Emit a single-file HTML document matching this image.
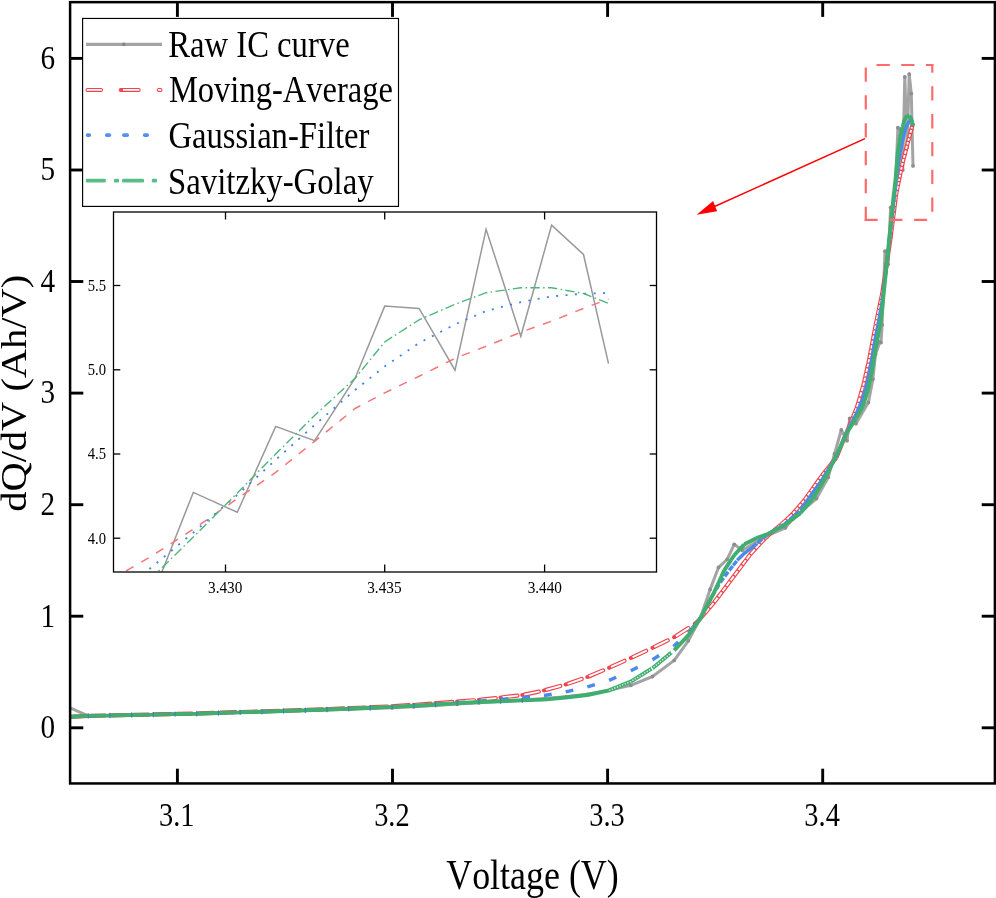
<!DOCTYPE html><html><head><meta charset="utf-8"><title>IC curve filtering comparison</title>
<style>html,body{margin:0;padding:0;background:#fff}svg{display:block}text{font-family:"Liberation Serif","Times New Roman",serif;fill:#000;font-kerning:none}</style></head><body>
<svg width="996" height="898" viewBox="0 0 996 898">
<rect width="996" height="898" fill="#fff"/>
<defs><clipPath id="cm"><rect x="70.1" y="2.1" width="924.8" height="781.3"/></clipPath><clipPath id="ci"><rect x="113.5" y="212.0" width="543.0" height="360.0"/></clipPath></defs>
<g clip-path="url(#cm)" fill="none" stroke-linejoin="round">
<polyline points="70.5,708.2 88.3,715.8 110.0,715.5 131.7,715.0 153.4,714.6 175.1,714.1 196.8,713.7 218.5,713.1 240.2,712.4 261.9,711.8 283.6,711.2 305.3,710.5 327.0,709.9 348.7,709.2 370.4,708.5 392.1,707.8 413.8,706.7 435.5,705.4 457.2,704.0 478.9,702.7 500.6,701.3 522.3,700.0 544.0,698.6 565.7,696.8 587.4,694.3 609.1,690.4 630.8,685.4 652.5,676.5 674.2,660.4 688.3,640.8 700.0,619.0 710.1,589.4 718.6,567.3 727.2,559.3 734.2,544.3 742.2,550.3 766.3,536.2 785.4,527.8 792.4,519.2 816.5,498.5 828.3,477.2 834.5,454.0 841.3,430.0 847.0,440.7 849.7,418.4 855.9,423.7 868.4,402.4 872.9,379.2 875.5,354.3 880.0,341.8 881.0,342.6 882.1,324.9 885.0,251.2 888.0,264.4 890.6,207.4 893.2,216.9 895.9,175.5 897.9,127.7 900.2,129.3 902.7,170.1 904.8,76.9 907.1,147.8 909.2,74.1 911.3,93.6 913.0,165.9" stroke="#a4a4a4" stroke-width="3"/>
<g fill="#8e8e8e"><circle cx="88.3" cy="715.8" r="1.9"/><circle cx="110.0" cy="715.5" r="1.9"/><circle cx="131.7" cy="715.0" r="1.9"/><circle cx="153.4" cy="714.6" r="1.9"/><circle cx="175.1" cy="714.1" r="1.9"/><circle cx="196.8" cy="713.7" r="1.9"/><circle cx="218.5" cy="713.1" r="1.9"/><circle cx="240.2" cy="712.4" r="1.9"/><circle cx="261.9" cy="711.8" r="1.9"/><circle cx="283.6" cy="711.2" r="1.9"/><circle cx="305.3" cy="710.5" r="1.9"/><circle cx="327.0" cy="709.9" r="1.9"/><circle cx="348.7" cy="709.2" r="1.9"/><circle cx="370.4" cy="708.5" r="1.9"/><circle cx="392.1" cy="707.8" r="1.9"/><circle cx="413.8" cy="706.7" r="1.9"/><circle cx="435.5" cy="705.4" r="1.9"/><circle cx="457.2" cy="704.0" r="1.9"/><circle cx="478.9" cy="702.7" r="1.9"/><circle cx="500.6" cy="701.3" r="1.9"/><circle cx="522.3" cy="700.0" r="1.9"/><circle cx="544.0" cy="698.6" r="1.9"/><circle cx="565.7" cy="696.8" r="1.9"/><circle cx="587.4" cy="694.3" r="1.9"/><circle cx="609.1" cy="690.4" r="1.9"/><circle cx="630.8" cy="685.4" r="1.9"/><circle cx="652.5" cy="676.5" r="1.9"/><circle cx="674.2" cy="660.4" r="1.9"/><circle cx="688.3" cy="640.8" r="1.9"/><circle cx="700.0" cy="619.0" r="1.9"/><circle cx="710.1" cy="589.4" r="1.9"/><circle cx="718.6" cy="567.3" r="1.9"/><circle cx="727.2" cy="559.3" r="1.9"/><circle cx="734.2" cy="544.3" r="1.9"/><circle cx="742.2" cy="550.3" r="1.9"/><circle cx="766.3" cy="536.2" r="1.9"/><circle cx="785.4" cy="527.8" r="1.9"/><circle cx="792.4" cy="519.2" r="1.9"/><circle cx="816.5" cy="498.5" r="1.9"/><circle cx="828.3" cy="477.2" r="1.9"/><circle cx="834.5" cy="454.0" r="1.9"/><circle cx="841.3" cy="430.0" r="1.9"/><circle cx="847.0" cy="440.7" r="1.9"/><circle cx="849.7" cy="418.4" r="1.9"/><circle cx="855.9" cy="423.7" r="1.9"/><circle cx="868.4" cy="402.4" r="1.9"/><circle cx="872.9" cy="379.2" r="1.9"/><circle cx="875.5" cy="354.3" r="1.9"/><circle cx="880.0" cy="341.8" r="1.9"/><circle cx="881.0" cy="342.6" r="1.9"/><circle cx="882.1" cy="324.9" r="1.9"/><circle cx="885.0" cy="251.2" r="1.9"/><circle cx="888.0" cy="264.4" r="1.9"/><circle cx="890.6" cy="207.4" r="1.9"/><circle cx="893.2" cy="216.9" r="1.9"/><circle cx="895.9" cy="175.5" r="1.9"/><circle cx="897.9" cy="127.7" r="1.9"/><circle cx="900.2" cy="129.3" r="1.9"/><circle cx="902.7" cy="170.1" r="1.9"/><circle cx="904.8" cy="76.9" r="1.9"/><circle cx="907.1" cy="147.8" r="1.9"/><circle cx="909.2" cy="74.1" r="1.9"/><circle cx="911.3" cy="93.6" r="1.9"/><circle cx="913.0" cy="165.9" r="1.9"/></g>
<path d="M70.5 716.8L88.3 715.9M694.8 624.0L700.0 619.0M700.0 619.0L704.7 613.5M704.7 613.5L709.4 608.0M709.4 608.0L714.1 602.5M714.1 602.5L718.1 597.1M718.1 597.1L722.2 591.8M722.2 591.8L726.2 586.4M726.2 586.4L730.2 581.1M730.2 581.1L734.2 575.7M734.2 575.7L738.2 570.4M738.2 570.4L742.2 565.0M742.2 565.0L746.3 559.7M746.3 559.7L750.3 554.3M750.3 554.3L755.3 548.8M755.3 548.8L760.3 543.3M760.3 543.3L764.3 539.2M764.3 539.2L768.4 535.2M768.4 535.2L774.4 530.2M774.4 530.2L780.4 525.2M780.4 525.2L786.4 519.7M786.4 519.7L792.4 514.1M792.4 514.1L795.4 510.6M795.4 510.6L798.5 507.1M798.5 507.1L801.5 503.6M801.5 503.6L804.5 500.1M804.5 500.1L807.4 496.0M807.4 496.0L810.4 491.9M810.4 491.9L813.3 487.8M813.3 487.8L816.2 483.6M816.2 483.6L819.2 479.5M819.2 479.5L822.1 475.4M822.1 475.4L824.9 471.8M824.9 471.8L827.8 468.3M827.8 468.3L830.6 464.7M830.6 464.7L833.5 461.2M833.5 461.2L836.3 457.6M836.3 457.6L838.4 452.6M838.4 452.6L840.5 447.5M840.5 447.5L842.5 442.5M842.5 442.5L844.6 437.4M844.6 437.4L846.7 432.4M846.7 432.4L848.8 427.3M848.8 427.3L850.8 422.4M850.8 422.4L852.8 417.5M852.8 417.5L854.8 412.6M854.8 412.6L856.8 407.7M856.8 407.7L858.4 402.4M858.4 402.4L860.0 397.0M860.0 397.0L861.5 391.6M861.5 391.6L863.1 386.3M863.1 386.3L864.2 381.7M864.2 381.7L865.2 377.1M865.2 377.1L866.3 372.4M866.3 372.4L867.3 367.8M867.3 367.8L868.4 363.2M868.4 363.2L869.3 358.6M869.3 358.6L870.2 353.9M870.2 353.9L871.1 349.3M871.1 349.3L872.0 344.6M872.0 344.6L872.9 340.0M872.9 340.0L873.8 334.9M873.8 334.9L874.8 329.9M874.8 329.9L875.7 324.8M875.7 324.8L876.8 319.7M876.8 319.7L877.8 314.6M877.8 314.6L878.9 309.6M878.9 309.6L879.9 304.5M879.9 304.5L881.0 299.4M881.0 299.4L882.1 294.3M882.1 294.3L882.8 289.6M882.8 289.6L883.5 284.9M883.5 284.9L884.3 280.2M884.3 280.2L885.0 275.6M885.0 275.6L885.8 270.5M885.8 270.5L886.5 265.4M886.5 265.4L887.3 260.4M887.3 260.4L888.0 255.3M888.0 255.3L888.6 250.9M888.6 250.9L889.3 246.6M889.3 246.6L889.9 242.3M889.9 242.3L890.6 237.9M890.6 237.9L891.2 232.8M891.2 232.8L891.9 227.6M891.9 227.6L892.5 222.5M892.5 222.5L893.2 217.3M893.2 217.3L893.9 211.9M893.9 211.9L894.6 206.5M894.6 206.5L895.3 201.0M895.3 201.0L895.9 195.6M895.9 195.6L896.9 190.4M896.9 190.4L897.9 185.3M897.9 185.3L898.7 181.6M898.7 181.6L899.5 177.9M899.5 177.9L900.2 174.3M900.2 174.3L901.1 170.3M901.1 170.3L901.9 166.3M901.9 166.3L902.7 162.3M902.7 162.3L903.7 158.4M903.7 158.4L904.8 154.4M904.8 154.4L905.9 149.7M905.9 149.7L907.1 145.0M907.1 145.0L908.1 141.4M908.1 141.4L909.2 137.8M909.2 137.8L910.3 133.5M910.3 133.5L911.3 129.3M911.3 129.3L912.2 126.2M912.2 126.2L913.0 123.1" stroke="#f0434b" stroke-width="4.2" stroke-linecap="butt"/>
<path d="M90.4 715.9L105.2 715.5M112.1 715.4L126.9 715.0M133.8 714.9L148.6 714.6M155.5 714.4L170.3 714.1M177.2 713.9L192.0 713.6M198.9 713.4L213.7 712.9M220.6 712.7L235.4 712.2M242.3 712.0L257.1 711.5M264.0 711.3L278.8 710.8M285.7 710.6L300.5 710.1M307.4 709.9L322.2 709.3M329.1 709.0L343.9 708.4M350.8 708.1L365.6 707.5M372.5 707.2L387.3 706.5M394.2 706.2L409.0 705.2M415.9 704.8L430.6 703.6M437.6 703.1L452.3 701.9M459.3 701.4L474.0 700.3M481.0 699.7L495.7 698.1M502.7 697.3L517.4 695.6M524.4 694.6L538.8 691.6M546.0 689.9L560.3 686.0M567.7 683.8L581.7 679.0M589.3 676.2L603.0 670.4M611.0 666.9L624.5 660.8M632.7 657.1L646.1 650.8M654.4 646.8L667.7 640.4M676.0 636.1L688.4 628.1" stroke="#f0434b" stroke-width="4.2" stroke-linecap="round"/>
<path d="M71.2 716.8L87.6 715.9M695.3 623.5L699.5 619.5M700.5 618.5L704.2 614.0M705.2 613.0L708.9 608.5M709.9 607.5L713.6 603.0M714.5 601.9L717.7 597.7M718.6 596.6L721.7 592.3M722.6 591.2L725.8 587.0M726.6 585.8L729.8 581.6M730.6 580.5L733.8 576.3M734.6 575.2L737.8 571.0M738.6 569.8L741.8 565.6M742.7 564.5L745.8 560.2M746.7 559.1L749.9 554.9M750.8 553.8L754.8 549.3M755.8 548.3L759.8 543.8M760.8 542.8L763.9 539.7M764.8 538.8L767.9 535.7M768.9 534.8L773.9 530.6M774.9 529.8L779.9 525.6M780.9 524.7L785.9 520.1M786.9 519.2L791.9 514.6M792.9 513.6L795.0 511.1M795.9 510.1L798.0 507.6M798.9 506.6L801.0 504.1M801.9 503.1L804.0 500.6M804.9 499.5L807.0 496.6M807.8 495.4L810.0 492.4M810.8 491.3L812.9 488.3M813.7 487.2L815.8 484.2M816.6 483.1L818.8 480.1M819.6 478.9L821.7 476.0M822.5 474.9L824.5 472.4M825.4 471.3L827.3 468.8M828.2 467.7L830.2 465.3M831.1 464.2L833.0 461.7M833.9 460.6L835.9 458.1M836.6 457.0L838.1 453.2M838.7 451.9L840.2 448.1M840.7 446.9L842.3 443.1M842.8 441.8L844.4 438.0M844.9 436.8L846.4 433.0M847.0 431.7L848.5 427.9M849.1 426.7L850.5 423.0M851.1 421.8L852.5 418.1M853.1 416.9L854.5 413.2M855.1 412.0L856.5 408.3M857.0 407.0L858.2 403.0M858.6 401.7L859.8 397.7M860.1 396.3L861.3 392.3M861.7 391.0L862.9 387.0M863.3 385.6L864.0 382.4M864.3 381.0L865.1 377.7M865.4 376.4L866.1 373.1M866.4 371.8L867.2 368.5M867.5 367.1L868.2 363.9M868.5 362.5L869.2 359.2M869.4 357.9L870.1 354.6M870.3 353.2L871.0 350.0M871.2 348.6L871.9 345.3M872.1 344.0L872.8 340.7M873.0 339.3L873.7 335.6M874.0 334.2L874.6 330.6M874.9 329.2L875.6 325.5M875.8 324.1L876.6 320.4M876.9 319.0L877.7 315.3M878.0 314.0L878.7 310.2M879.0 308.9L879.8 305.2M880.1 303.8L880.9 300.1M881.1 298.7L881.9 295.0M882.2 293.6L882.7 290.3M882.9 288.9L883.4 285.6M883.7 284.2L884.2 280.9M884.4 279.6L884.9 276.2M885.1 274.9L885.7 271.2M885.9 269.8L886.4 266.1M886.6 264.7L887.1 261.0M887.4 259.7L887.9 256.0M888.1 254.6L888.5 251.6M888.7 250.3L889.2 247.3M889.4 245.9L889.8 243.0M890.0 241.6L890.5 238.6M890.7 237.2L891.1 233.5M891.3 232.1L891.8 228.3M892.0 226.9L892.5 223.2M892.6 221.8L893.1 218.0M893.3 216.6L893.8 212.6M894.0 211.2L894.5 207.1M894.7 205.8L895.2 201.7M895.3 200.3L895.8 196.3M896.1 194.9L896.8 191.1M897.1 189.7L897.8 185.9M898.1 184.6L898.6 182.3M898.8 180.9L899.3 178.6M899.6 177.2L900.1 174.9M900.4 173.6L900.9 171.0M901.2 169.6L901.7 167.0M902.0 165.6L902.5 163.0M902.8 161.7L903.5 159.0M903.9 157.7L904.6 155.1M904.9 153.7L905.8 150.4M906.1 149.0L906.9 145.7M907.3 144.4L907.9 142.1M908.3 140.7L909.0 138.4M909.3 137.1L910.1 134.2M910.4 132.8L911.2 129.9M911.5 128.6L912.0 126.9M912.4 125.5L912.8 123.8" stroke="#fff" stroke-width="1.9" stroke-linecap="butt"/>
<path d="M90.4 715.9L105.2 715.5M112.1 715.4L126.9 715.0M133.8 714.9L148.6 714.6M155.5 714.4L170.3 714.1M177.2 713.9L192.0 713.6M198.9 713.4L213.7 712.9M220.6 712.7L235.4 712.2M242.3 712.0L257.1 711.5M264.0 711.3L278.8 710.8M285.7 710.6L300.5 710.1M307.4 709.9L322.2 709.3M329.1 709.0L343.9 708.4M350.8 708.1L365.6 707.5M372.5 707.2L387.3 706.5M394.2 706.2L409.0 705.2M415.9 704.8L430.6 703.6M437.6 703.1L452.3 701.9M459.3 701.4L474.0 700.3M481.0 699.7L495.7 698.1M502.7 697.3L517.4 695.6M524.4 694.6L538.8 691.6M546.0 689.9L560.3 686.0M567.7 683.8L581.7 679.0M589.3 676.2L603.0 670.4M611.0 666.9L624.5 660.8M632.7 657.1L646.1 650.8M654.4 646.8L667.7 640.4M676.0 636.1L688.4 628.1" stroke="#fff" stroke-width="1.9" stroke-linecap="round"/>
<g fill="#f0434b"><circle cx="88.3" cy="715.9" r="2.1"/><circle cx="110.0" cy="715.4" r="2.1"/><circle cx="131.7" cy="714.9" r="2.1"/><circle cx="153.4" cy="714.4" r="2.1"/><circle cx="175.1" cy="714.0" r="2.1"/><circle cx="196.8" cy="713.5" r="2.1"/><circle cx="218.5" cy="712.8" r="2.1"/><circle cx="240.2" cy="712.1" r="2.1"/><circle cx="261.9" cy="711.4" r="2.1"/><circle cx="283.6" cy="710.7" r="2.1"/><circle cx="305.3" cy="710.0" r="2.1"/><circle cx="327.0" cy="709.1" r="2.1"/><circle cx="348.7" cy="708.2" r="2.1"/><circle cx="370.4" cy="707.2" r="2.1"/><circle cx="392.1" cy="706.3" r="2.1"/><circle cx="413.8" cy="704.9" r="2.1"/><circle cx="435.5" cy="703.2" r="2.1"/><circle cx="457.2" cy="701.6" r="2.1"/><circle cx="478.9" cy="699.9" r="2.1"/><circle cx="500.6" cy="697.6" r="2.1"/><circle cx="522.3" cy="695.0" r="2.1"/><circle cx="544.0" cy="690.5" r="2.1"/><circle cx="565.7" cy="684.5" r="2.1"/><circle cx="587.4" cy="677.0" r="2.1"/><circle cx="609.1" cy="667.8" r="2.1"/><circle cx="630.8" cy="658.0" r="2.1"/><circle cx="652.5" cy="647.8" r="2.1"/><circle cx="674.2" cy="637.2" r="2.1"/><circle cx="694.8" cy="624.0" r="2.1"/></g>
<path d="M70.5 716.8L78.3 716.4M88.3 715.9L96.1 715.7M110.0 715.4L117.8 715.3M131.7 715.0L139.5 714.8M153.4 714.5L161.2 714.3M175.1 714.0L182.9 713.9M196.8 713.6L204.6 713.3M218.5 712.9L226.3 712.7M240.2 712.2L248.0 712.0M261.9 711.5L269.7 711.3M283.6 710.8L291.4 710.6M305.3 710.1L313.1 709.9M327.0 709.4L334.8 709.1M348.7 708.6L356.5 708.3M370.4 707.9L378.2 707.6M392.1 707.1L399.9 706.6M413.8 705.8L421.6 705.3M435.5 704.3L443.3 703.7M457.2 702.7L465.0 702.2M478.9 701.2L486.7 700.5M500.6 699.4L508.4 698.8M522.3 697.6L530.1 696.9M544.0 695.5L551.7 694.2M565.7 691.8L573.3 690.1M587.4 686.8L594.9 684.6M609.1 680.4L616.2 677.2M630.8 670.8L637.7 667.2M652.5 659.7L659.1 655.5M673.2 646.4L674.2 645.8" stroke="#4a8aeb" stroke-width="3.4" stroke-linecap="butt"/>
<path d="M674.2 645.8L678.3 642.0M688.3 632.8L691.9 628.5M692.2 628.2L695.8 623.9M696.1 623.6L699.7 619.3M700.0 619.0L702.7 614.1M704.0 611.5L706.7 606.6M708.1 604.0L710.7 599.1M712.1 596.5L714.9 591.6M716.2 589.5L718.9 584.6M720.2 582.4L723.6 577.9M724.7 576.4L728.1 571.9M729.2 570.4L732.7 566.0M733.2 565.3L736.7 561.0M737.2 560.3L740.8 556.8M740.8 556.8L744.3 553.3M744.3 553.3L748.3 550.3M748.3 550.3L752.3 547.3M752.3 547.3L756.6 543.7M757.7 542.8L762.0 539.2M763.0 538.3L767.3 534.7M768.4 533.8L773.2 530.9M773.7 530.6L778.5 527.7M779.1 527.4L783.9 524.5M784.4 524.2L788.6 520.5M789.8 519.5L794.0 515.8M795.1 514.8L799.3 511.1M800.5 510.1L803.4 506.1M803.4 506.1L806.2 502.1M806.2 502.1L809.1 498.1M809.1 498.1L812.0 494.0M812.0 494.0L814.9 490.0M814.9 490.0L817.7 486.0M817.7 486.0L820.6 482.0M820.6 482.0L823.2 477.8M823.2 477.8L825.8 473.5M825.8 473.5L828.5 469.2M828.5 469.2L831.1 465.0M831.1 465.0L833.7 460.8M833.7 460.8L836.3 456.5M836.3 456.5L838.2 452.2M838.2 452.2L840.0 447.8M840.0 447.8L841.9 443.5M841.9 443.5L843.8 439.2M843.8 439.2L845.6 434.8M845.6 434.8L847.5 430.5M847.5 430.5L849.7 426.4M849.7 426.4L851.9 422.2M851.9 422.2L854.0 418.1M854.0 418.1L856.2 414.0M856.2 414.0L857.9 410.0M857.9 410.0L859.7 406.0M859.7 406.0L861.4 402.0M861.4 402.0L863.1 398.0M863.1 398.0L864.4 393.0M864.4 393.0L865.8 388.0M865.8 388.0L867.1 383.0M867.1 383.0L868.4 378.0M868.4 378.0L869.4 372.5M869.4 372.5L870.3 367.0M870.3 367.0L871.3 361.5M871.3 361.5L872.3 356.0M872.3 356.0L873.2 350.7M873.2 350.7L874.1 345.3M874.1 345.3L875.0 340.0M875.0 340.0L876.0 334.9M876.0 334.9L877.0 329.9M877.0 329.9L878.0 324.8M878.0 324.8L878.8 320.2M878.8 320.2L879.6 315.7M879.6 315.7L880.4 311.1M880.4 311.1L881.3 306.5M881.3 306.5L882.1 301.9M882.1 301.9L882.7 297.1M882.7 297.1L883.3 292.3M883.3 292.3L883.8 287.5M883.8 287.5L884.4 282.6M884.4 282.6L885.0 277.8M885.0 277.8L885.6 272.8M885.6 272.8L886.2 267.8M886.2 267.8L886.8 262.8M886.8 262.8L887.4 257.8M887.4 257.8L888.0 252.8M888.0 252.8L888.5 248.2M888.5 248.2L889.0 243.5M889.0 243.5L889.5 238.9M889.5 238.9L890.1 234.2M890.1 234.2L890.6 229.6M890.6 229.6L891.1 225.0M891.1 225.0L891.6 220.4M891.6 220.4L892.2 215.7M892.2 215.7L892.7 211.1M892.7 211.1L893.2 206.5M893.2 206.5L893.7 201.9M893.7 201.9L894.3 197.2M894.3 197.2L894.8 192.6M894.8 192.6L895.4 188.0M895.4 188.0L895.9 183.3M895.9 183.3L896.6 178.1M896.6 178.1L897.3 172.9M897.3 172.9L897.9 167.7M897.9 167.7L898.7 162.5M898.7 162.5L899.5 157.4M899.5 157.4L900.2 152.2M900.2 152.2L901.1 148.1M901.1 148.1L901.9 144.0M901.9 144.0L902.7 139.9M902.7 139.9L903.7 135.4M903.7 135.4L904.8 131.0M904.8 131.0L905.9 128.0M905.9 128.0L907.1 125.1M907.1 125.1L909.2 121.3M909.2 121.3L911.3 119.5M911.3 119.5L913.0 119.0" stroke="#4a8aeb" stroke-width="3.5" stroke-linecap="butt"/>
<path d="M70.5 716.8L88.3 715.9M88.3 715.9L110.0 715.5M110.0 715.5L131.7 715.0M131.7 715.0L153.4 714.6M153.4 714.6L175.1 714.1M175.1 714.1L196.8 713.7M196.8 713.7L218.5 713.0M218.5 713.0L240.2 712.4M240.2 712.4L261.9 711.7M261.9 711.7L283.6 711.0M283.6 711.0L305.3 710.3M305.3 710.3L327.0 709.5M327.0 709.5L348.7 708.7M348.7 708.7L370.4 707.8M370.4 707.8L392.1 706.9M392.1 706.9L413.8 705.8M413.8 705.8L435.5 704.5M435.5 704.5L457.2 703.2M457.2 703.2L478.9 702.0M478.9 702.0L500.6 701.2M500.6 701.2L522.3 700.4M522.3 700.4L544.0 699.6M544.0 699.6L565.7 697.5M565.7 697.5L587.4 695.0M587.4 695.0L609.1 690.4M609.1 690.4L630.8 681.6M630.8 681.6L651.6 668.7M652.5 668.2L671.4 652.6M674.2 650.3L688.3 635.3M688.3 635.3L692.2 629.9M692.2 629.9L696.1 624.4M696.1 624.4L700.0 619.0M700.0 619.0L703.5 612.4M703.5 612.4L707.0 605.7M707.0 605.7L710.6 599.0M710.6 599.0L714.1 592.4M714.1 592.4L717.5 585.1M717.5 585.1L720.8 577.7M720.8 577.7L724.2 570.4M724.2 570.4L727.5 565.4M727.5 565.4L730.9 560.3M730.9 560.3L734.2 555.3M734.2 555.3L739.2 549.8M739.2 549.8L744.3 544.3M744.3 544.3L750.3 541.2M750.3 541.2L756.3 538.2M756.3 538.2L762.3 536.0M762.3 536.0L768.4 533.8M768.4 533.8L773.7 530.9M773.7 530.9L779.1 528.1M779.1 528.1L784.4 525.2M784.4 525.2L789.8 521.2M789.8 521.2L795.1 517.1M795.1 517.1L800.5 513.1M800.5 513.1L803.5 509.6M803.5 509.6L806.5 506.1M806.5 506.1L809.5 502.6M809.5 502.6L812.5 499.1M812.5 499.1L815.1 494.7M815.1 494.7L817.7 490.3M817.7 490.3L820.4 486.0M820.4 486.0L823.0 481.6M823.0 481.6L825.6 477.2M825.6 477.2L827.7 472.9M827.7 472.9L829.9 468.6M829.9 468.6L832.0 464.4M832.0 464.4L834.2 460.1M834.2 460.1L836.3 455.8M836.3 455.8L838.4 451.2M838.4 451.2L840.6 446.6M840.6 446.6L842.7 441.9M842.7 441.9L844.9 437.3M844.9 437.3L847.0 432.7M847.0 432.7L849.2 429.1M849.2 429.1L851.5 425.5M851.5 425.5L853.7 422.0M853.7 422.0L855.9 418.4M855.9 418.4L858.3 414.2M858.3 414.2L860.7 410.1M860.7 410.1L863.1 405.9M863.1 405.9L864.4 401.4M864.4 401.4L865.8 397.0M865.8 397.0L867.1 392.6M867.1 392.6L868.4 388.1M868.4 388.1L869.3 383.7M869.3 383.7L870.2 379.2M870.2 379.2L871.1 374.8M871.1 374.8L872.0 370.3M872.0 370.3L872.9 365.0M872.9 365.0L873.7 359.6M873.7 359.6L874.6 354.3M874.6 354.3L875.5 349.5M875.5 349.5L876.4 344.8M876.4 344.8L877.3 340.0M877.3 340.0L878.2 334.9M878.2 334.9L879.2 329.9M879.2 329.9L880.1 324.8M880.1 324.8L880.8 319.6M880.8 319.6L881.4 314.4M881.4 314.4L882.1 309.2M882.1 309.2L882.6 304.5M882.6 304.5L883.1 299.7M883.1 299.7L883.5 295.0M883.5 295.0L884.0 290.3M884.0 290.3L884.5 285.5M884.5 285.5L885.0 280.8M885.0 280.8L885.5 275.9M885.5 275.9L886.0 271.1M886.0 271.1L886.5 266.2M886.5 266.2L887.0 261.3M887.0 261.3L887.5 256.4M887.5 256.4L888.0 251.6M888.0 251.6L888.5 246.4M888.5 246.4L889.0 241.2M889.0 241.2L889.5 236.1M889.5 236.1L890.1 230.9M890.1 230.9L890.6 225.7M890.6 225.7L891.1 220.6M891.1 220.6L891.6 215.5M891.6 215.5L892.2 210.4M892.2 210.4L892.7 205.3M892.7 205.3L893.2 200.2M893.2 200.2L893.7 195.3M893.7 195.3L894.3 190.3M894.3 190.3L894.8 185.4M894.8 185.4L895.4 180.5M895.4 180.5L895.9 175.5M895.9 175.5L896.3 170.7M896.3 170.7L896.7 165.9M896.7 165.9L897.1 161.1M897.1 161.1L897.5 156.3M897.5 156.3L897.9 151.5M897.9 151.5L898.7 146.6M898.7 146.6L899.5 141.7M899.5 141.7L900.2 136.8M900.2 136.8L901.5 131.7M901.5 131.7L902.7 126.6M902.7 126.6L903.7 122.7M903.7 122.7L904.8 118.9M904.8 118.9L907.1 115.6M907.1 115.6L909.2 115.6M909.2 115.6L911.3 119.4M911.3 119.4L912.2 122.7M912.2 122.7L913.0 126.0" stroke="#3fae6e" stroke-width="3.9" stroke-linecap="butt"/>
<polyline points="609.1,690.4 630.8,681.6 652.5,668.2 674.2,650.3" stroke="#fff" stroke-width="1.5" stroke-dasharray="1.3 1.5" stroke-opacity="0.8"/>
<path d="M88.3 713.2V718.6M110.0 712.8V718.2M131.7 712.3V717.7M153.4 711.9V717.3M175.1 711.4V716.8M196.8 711.0V716.4M218.5 710.3V715.7M240.2 709.7V715.1M261.9 709.0V714.4M283.6 708.3V713.7M305.3 707.6V713.0M327.0 706.8V712.2M348.7 706.0V711.4M370.4 705.1V710.5M392.1 704.2V709.6M413.8 703.1V708.5M435.5 701.8V707.2M457.2 700.5V705.9M478.9 699.3V704.7M500.6 698.5V703.9M522.3 697.7V703.1" stroke="#3f6fd6" stroke-width="1.1" stroke-opacity="0.75"/>
</g>
<g stroke="#ff6b6b" stroke-width="2.2" fill="none">
<line x1="865.8" y1="221" x2="865.8" y2="65" stroke-dasharray="14.3 13.55"/>
<line x1="933.4" y1="65" x2="866.2" y2="65" stroke-dasharray="13.3 11.4" stroke-dashoffset="5.8"/>
<line x1="932.3" y1="64" x2="932.3" y2="221" stroke-dasharray="14.3 13.5" stroke-dashoffset="5.5"/>
<line x1="864.7" y1="219.8" x2="933" y2="219.8" stroke-dasharray="13 11.7"/>
</g>
<line x1="865" y1="138.6" x2="714" y2="206.8" stroke="#f00" stroke-width="1.5"/>
<polygon points="696.6,214.7 713.1,201.1 717.1,211.2" fill="#f00"/>
<rect x="70.10" y="2.15" width="924.80" height="781.30" stroke="#000" stroke-width="2.5" fill="none"/>
<g stroke="#000" stroke-width="2.9" fill="none" stroke-linecap="butt">
<line x1="177.4" y1="783.5" x2="177.4" y2="768.7"/>
<line x1="177.4" y1="2.1" x2="177.4" y2="16.9"/>
<line x1="392.5" y1="783.5" x2="392.5" y2="768.7"/>
<line x1="392.5" y1="2.1" x2="392.5" y2="16.9"/>
<line x1="607.6" y1="783.5" x2="607.6" y2="768.7"/>
<line x1="607.6" y1="2.1" x2="607.6" y2="16.9"/>
<line x1="822.7" y1="783.5" x2="822.7" y2="768.7"/>
<line x1="822.7" y1="2.1" x2="822.7" y2="16.9"/>
<line x1="70.1" y1="727.8" x2="83.3" y2="727.8"/>
<line x1="994.9" y1="727.8" x2="981.7" y2="727.8"/>
<line x1="70.1" y1="616.2" x2="83.3" y2="616.2"/>
<line x1="994.9" y1="616.2" x2="981.7" y2="616.2"/>
<line x1="70.1" y1="504.7" x2="83.3" y2="504.7"/>
<line x1="994.9" y1="504.7" x2="981.7" y2="504.7"/>
<line x1="70.1" y1="393.1" x2="83.3" y2="393.1"/>
<line x1="994.9" y1="393.1" x2="981.7" y2="393.1"/>
<line x1="70.1" y1="281.5" x2="83.3" y2="281.5"/>
<line x1="994.9" y1="281.5" x2="981.7" y2="281.5"/>
<line x1="70.1" y1="170.0" x2="83.3" y2="170.0"/>
<line x1="994.9" y1="170.0" x2="981.7" y2="170.0"/>
<line x1="70.1" y1="58.4" x2="83.3" y2="58.4"/>
<line x1="994.9" y1="58.4" x2="981.7" y2="58.4"/>
</g>
<rect x="82.6" y="18.45" width="315.9" height="187.95" fill="#fff" stroke="#000" stroke-width="1.15"/>
<line x1="86" y1="44.4" x2="162" y2="44.4" stroke="#a4a4a4" stroke-width="3.4"/><circle cx="123.8" cy="44.4" r="1.8" fill="#858585"/>
<rect x="86.0" y="88.45" width="16.5" height="2.9" rx="1.45" fill="#fff" stroke="#f0434b" stroke-width="1.1"/>
<rect x="119.2" y="88.45" width="21.0" height="2.9" rx="1.45" fill="#fff" stroke="#f0434b" stroke-width="1.1"/>
<rect x="157.3" y="88.45" width="4.7" height="2.9" rx="1.45" fill="#fff" stroke="#f0434b" stroke-width="1.1"/>
<circle cx="121.5" cy="89.9" r="1.6" fill="#f0434b"/>
<rect x="85.8" y="133.2" width="5.3" height="3.7" rx="1.7" fill="#5590ee"/>
<rect x="105.0" y="133.2" width="6.2" height="3.7" rx="1.7" fill="#5590ee"/>
<rect x="122.1" y="133.2" width="6.9" height="3.7" rx="1.7" fill="#5590ee"/>
<rect x="142.9" y="133.2" width="6.1" height="3.7" rx="1.7" fill="#5590ee"/>
<rect x="85.8" y="178.7" width="20.0" height="3.8" rx="1.2" fill="#58bd86"/>
<rect x="114.0" y="178.7" width="5.0" height="3.8" rx="1.2" fill="#58bd86"/>
<rect x="122.1" y="178.7" width="21.9" height="3.8" rx="1.2" fill="#58bd86"/>
<rect x="151.8" y="178.7" width="5.2" height="3.8" rx="1.2" fill="#58bd86"/>
<text x="168.2" y="56.9" font-size="37.2" textLength="181.5" lengthAdjust="spacingAndGlyphs">Raw IC curve</text>
<text x="168.9" y="102.2" font-size="37.2" textLength="224.0" lengthAdjust="spacingAndGlyphs">Moving-Average</text>
<text x="168.4" y="147.9" font-size="37.2" textLength="201.0" lengthAdjust="spacingAndGlyphs">Gaussian-Filter</text>
<text x="168.1" y="193.6" font-size="37.2" textLength="205.5" lengthAdjust="spacingAndGlyphs">Savitzky-Golay</text>
<rect x="113.5" y="212.0" width="543.0" height="360.0" fill="#fff" stroke="none"/>
<g clip-path="url(#ci)" fill="none" stroke-linejoin="miter">
<polyline points="149.4,603.7 193.3,492.4 237.3,512.3 275.7,426.4 314.6,440.7 355.1,378.2 384.7,306.1 419.1,308.4 455.0,370.1 486.1,229.3 520.8,336.3 551.6,225.1 583.5,254.5 608.5,363.7" stroke="#999" stroke-width="1.5"/>
<polyline points="111.0,579.5 149.4,557.5 193.3,529.2 237.3,498.6 275.7,472.4 314.6,441.3 355.1,408.5 384.7,392.9 419.1,376.3 455.0,358.3 486.1,346.3 520.8,332.2 551.6,321.2 583.5,308.4 608.5,299.1" stroke="#f4747a" stroke-width="1.5" stroke-dasharray="8.6 8.8"/>
<polyline points="149.4,569.0 193.3,532.6 237.3,494.9 275.7,459.8 314.6,425.0 355.1,390.0 384.7,366.4 419.1,343.0 455.0,324.4 486.1,311.0 520.8,302.1 551.6,296.4 583.5,293.7 608.5,292.9" stroke="#3c82e8" stroke-width="1.8" stroke-dasharray="2 7.4"/>
<polyline points="149.4,580.0 193.3,537.1 237.3,493.0 275.7,454.0 314.6,415.5 355.1,378.2 384.7,342.0 419.1,319.8 455.0,304.3 486.1,292.7 520.8,287.8 551.6,287.8 583.5,293.5 608.5,303.5" stroke="#4db67a" stroke-width="1.4" stroke-dasharray="9.4 3.3 1.6 3.3"/>
</g>
<g stroke="#000" stroke-width="1.3" fill="none">
<rect x="113.5" y="212.0" width="543.0" height="360.0"/>
<line x1="225.5" y1="572.0" x2="225.5" y2="564.5"/>
<line x1="225.5" y1="212.0" x2="225.5" y2="219.5"/>
<line x1="384.7" y1="572.0" x2="384.7" y2="564.5"/>
<line x1="384.7" y1="212.0" x2="384.7" y2="219.5"/>
<line x1="544.6" y1="572.0" x2="544.6" y2="564.5"/>
<line x1="544.6" y1="212.0" x2="544.6" y2="219.5"/>
<line x1="113.5" y1="285.5" x2="120.3" y2="285.5"/>
<line x1="656.5" y1="285.5" x2="649.7" y2="285.5"/>
<line x1="113.5" y1="369.8" x2="120.3" y2="369.8"/>
<line x1="656.5" y1="369.8" x2="649.7" y2="369.8"/>
<line x1="113.5" y1="454.0" x2="120.3" y2="454.0"/>
<line x1="656.5" y1="454.0" x2="649.7" y2="454.0"/>
<line x1="113.5" y1="538.2" x2="120.3" y2="538.2"/>
<line x1="656.5" y1="538.2" x2="649.7" y2="538.2"/>
</g>
<text x="87.8" y="290.9" font-size="16.6" textLength="18.3" lengthAdjust="spacingAndGlyphs">5.5</text>
<text x="87.8" y="375.2" font-size="16.6" textLength="18.3" lengthAdjust="spacingAndGlyphs">5.0</text>
<text x="87.8" y="459.4" font-size="16.6" textLength="18.3" lengthAdjust="spacingAndGlyphs">4.5</text>
<text x="87.8" y="543.6" font-size="16.6" textLength="18.3" lengthAdjust="spacingAndGlyphs">4.0</text>
<text x="225.2" y="592.9" font-size="16.6" textLength="34.3" lengthAdjust="spacingAndGlyphs" text-anchor="middle">3.430</text>
<text x="384.4" y="592.9" font-size="16.6" textLength="34.3" lengthAdjust="spacingAndGlyphs" text-anchor="middle">3.435</text>
<text x="544.8" y="592.9" font-size="16.6" textLength="34.3" lengthAdjust="spacingAndGlyphs" text-anchor="middle">3.440</text>
<text x="55.2" y="738.1" font-size="34.0" textLength="14.6" lengthAdjust="spacingAndGlyphs" text-anchor="end">0</text>
<text x="55.2" y="626.5" font-size="34.0" textLength="14.6" lengthAdjust="spacingAndGlyphs" text-anchor="end">1</text>
<text x="55.2" y="515.0" font-size="34.0" textLength="14.6" lengthAdjust="spacingAndGlyphs" text-anchor="end">2</text>
<text x="55.2" y="403.4" font-size="34.0" textLength="14.6" lengthAdjust="spacingAndGlyphs" text-anchor="end">3</text>
<text x="55.2" y="291.8" font-size="34.0" textLength="14.6" lengthAdjust="spacingAndGlyphs" text-anchor="end">4</text>
<text x="55.2" y="180.3" font-size="34.0" textLength="14.6" lengthAdjust="spacingAndGlyphs" text-anchor="end">5</text>
<text x="55.2" y="68.7" font-size="34.0" textLength="14.6" lengthAdjust="spacingAndGlyphs" text-anchor="end">6</text>
<text x="176.8" y="826.2" font-size="34.0" textLength="35.5" lengthAdjust="spacingAndGlyphs" text-anchor="middle">3.1</text>
<text x="391.9" y="826.2" font-size="34.0" textLength="35.5" lengthAdjust="spacingAndGlyphs" text-anchor="middle">3.2</text>
<text x="607.0" y="826.2" font-size="34.0" textLength="35.5" lengthAdjust="spacingAndGlyphs" text-anchor="middle">3.3</text>
<text x="822.1" y="826.2" font-size="34.0" textLength="35.5" lengthAdjust="spacingAndGlyphs" text-anchor="middle">3.4</text>
<text x="446.2" y="888.6" font-size="42.5" textLength="172.6" lengthAdjust="spacingAndGlyphs">Voltage (V)</text>
<text transform="translate(25.6,393.3) rotate(-90)" font-size="36.5" text-anchor="middle" textLength="237" lengthAdjust="spacingAndGlyphs">dQ/dV (Ah/V)</text>
</svg></body></html>
